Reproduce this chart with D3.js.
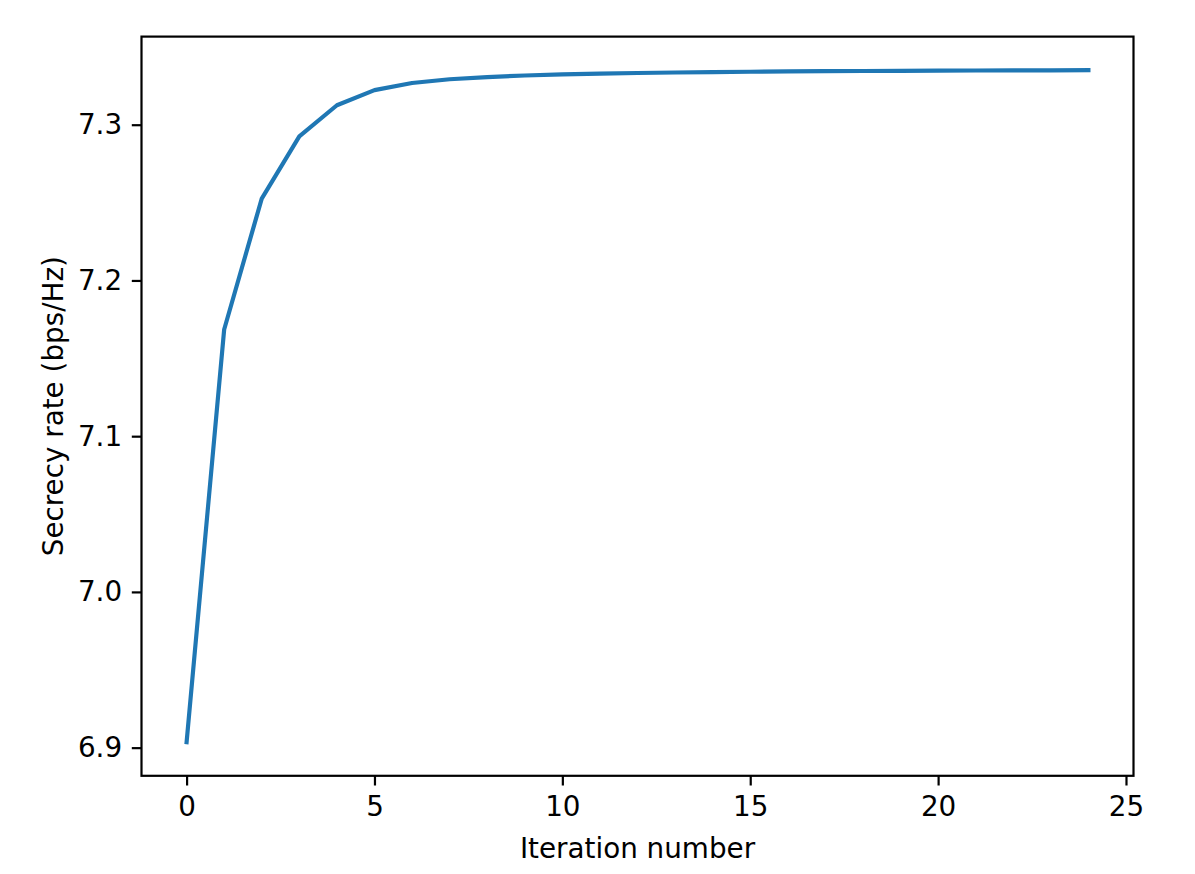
<!DOCTYPE html>
<html>
<head>
<meta charset="utf-8">
<script src="https://cdn.jsdelivr.net/npm/d3@7"></script>
<style>
  html, body { margin: 0; padding: 0; background: #fff; }
  svg text { font-family: "DejaVu Sans", sans-serif; fill: #000; }
</style>
</head>
<body>
<svg id="chart"></svg>
<script>
// Data
const iterations = d3.range(0, 25);
const secrecyRate = [
  6.9035, 7.1685, 7.2525, 7.2925, 7.3125, 7.3222, 7.3268, 7.3292, 7.3306, 7.3316,
  7.3323, 7.3328, 7.3332, 7.3335, 7.3338, 7.3340, 7.3342, 7.3344, 7.3345, 7.3346,
  7.3347, 7.3348, 7.3349, 7.3349, 7.3350
];
const xTicks = [0, 5, 10, 15, 20, 25];
const yTicks = [6.9, 7.0, 7.1, 7.2, 7.3];

const W = 1195, H = 874;
const margin = {top: 36.6, right: 61.5, bottom: 98.2, left: 141.5};
const width = W - margin.left - margin.right,
      height = H - margin.top - margin.bottom;

const fontPx = 27.8, tickLen = 9.7, tickPad = 9.7, lw = 2.2;

const svg = d3.select("#chart").attr("width", W).attr("height", H);
const g = svg.append("g").attr("transform", `translate(${margin.left},${margin.top})`);

// matplotlib-style 5% margins
const xPad = (24 - 0) * 0.05;
const yMin = d3.min(secrecyRate), yMax = d3.max(secrecyRate);
const yPad = (yMax - yMin) * 0.05;

const x = d3.scaleLinear().domain([0 - xPad, 24 + xPad]).range([0, width]);
const y = d3.scaleLinear().domain([yMin - yPad, yMax + yPad]).range([height, 0]);

// Line
const line = d3.line()
    .x((d, i) => x(iterations[i]))
    .y(d => y(d));

g.append("path")
    .datum(secrecyRate)
    .attr("fill", "none")
    .attr("stroke", "#1f77b4")
    .attr("stroke-width", 4.17)
    .attr("stroke-linecap", "square")
    .attr("stroke-linejoin", "round")
    .attr("d", line);

// Axes
const xAxis = g.append("g")
    .attr("transform", `translate(0,${height})`)
    .call(d3.axisBottom(x).tickValues(xTicks).tickFormat(d3.format("d"))
        .tickSize(tickLen).tickPadding(tickPad));

const yAxis = g.append("g")
    .call(d3.axisLeft(y).tickValues(yTicks).tickFormat(d3.format(".1f"))
        .tickSize(tickLen).tickPadding(tickPad));

[xAxis, yAxis].forEach(a => {
    a.select(".domain").remove();
    a.selectAll(".tick line").attr("stroke", "#000").attr("stroke-width", lw);
    a.selectAll(".tick text")
        .style("font-size", fontPx + "px")
        .attr("fill", "#000");
});
xAxis.selectAll(".tick text").attr("dy", "0.76em");

// Frame
g.append("rect")
    .attr("width", width)
    .attr("height", height)
    .attr("fill", "none")
    .attr("stroke", "#000")
    .attr("stroke-width", lw);

// Axis labels
g.append("text")
    .attr("x", width / 2)
    .attr("y", 858 - margin.top)
    .attr("text-anchor", "middle")
    .style("font-size", fontPx + "px")
    .text("Iteration number");

g.append("text")
    .attr("transform", `translate(${62.5 - margin.left},${height / 2}) rotate(-90)`)
    .attr("text-anchor", "middle")
    .style("font-size", fontPx + "px")
    .text("Secrecy rate (bps/Hz)");
</script>
</body>
</html>
